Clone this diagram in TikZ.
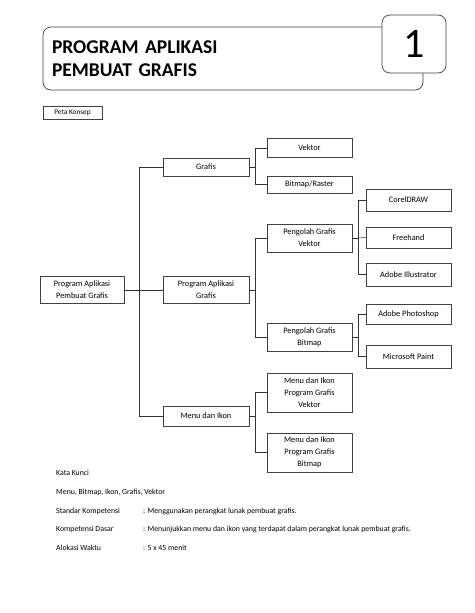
\documentclass[tikz,border=0pt]{standalone}
\usepackage{fontspec}
\setmainfont{Carlito}
\usetikzlibrary{shadows}
\newcommand\judulspasi{\spaceskip=3pt plus 1pt\relax}

\tikzset{
  kotak/.style={draw=black!75, line width=0.6pt, fill=white, align=center,
    font=\fontsize{8.3}{12}\selectfont, inner sep=1pt,
    drop shadow={shadow xshift=0.6pt, shadow yshift=-0.6pt, fill=black!35, opacity=1}},
  garis/.style={draw=black!80, line width=0.6pt},
  ket/.style={anchor=base west, font=\fontsize{7.8}{9}\selectfont, inner sep=0pt}
}

\begin{document}
\begin{tikzpicture}[x=1pt,y=-1pt]
        \useasboundingbox[fill=white] (0,0) rectangle (474,613);

        % Title box with chapter number
        \node[draw=black!75, line width=0.7pt, rounded corners=8pt, minimum width=380pt,
          minimum height=63pt, text width=362pt, inner xsep=9pt, align=left,
          font=\fontsize{19.5}{23}\selectfont\bfseries\judulspasi] (judul) at (233,58.5)
          {PROGRAM APLIKASI\\PEMBUAT GRAFIS};
        \node[draw=black!75, line width=0.7pt, rounded corners=8pt, fill=white,
          minimum width=64pt, minimum height=58pt, font=\fontsize{42}{42}\selectfont] (nomor) at (414,44) {1};

        % Peta Konsep label
        \node[draw=black!75, line width=0.6pt, minimum width=59pt, minimum height=13pt,
          inner sep=0pt, font=\fontsize{7.3}{8}\selectfont] (peta) at (72.5,112.5) {Peta Konsep};

        % Root and first level
        \node[kotak, minimum width=84pt, minimum height=27pt] (root) at (82,290) {Program Aplikasi\\Pembuat Grafis};
        \node[kotak, minimum width=86pt, minimum height=18pt] (grafis) at (206,167) {Grafis};
        \node[kotak, minimum width=86pt, minimum height=27pt] (pag) at (206,290) {Program Aplikasi\\Grafis};
        \node[kotak, minimum width=86pt, minimum height=20pt] (menu) at (206,416) {Menu dan Ikon};

        % Second level
        \node[kotak, minimum width=85pt, minimum height=19pt] (vektor) at (309.5,148) {Vektor};
        \node[kotak, minimum width=85pt, minimum height=17pt] (bitmap) at (309.5,184.5) {Bitmap/Raster};
        \node[kotak, minimum width=85pt, minimum height=28pt] (pgv) at (309.5,238) {Pengolah Grafis\\Vektor};
        \node[kotak, minimum width=85pt, minimum height=28pt] (pgb) at (309.5,337) {Pengolah Grafis\\Bitmap};
        \node[kotak, minimum width=85pt, minimum height=39pt] (mipv) at (309.5,392.5) {Menu dan Ikon\\Program Grafis\\Vektor};
        \node[kotak, minimum width=85pt, minimum height=39pt] (mipb) at (309.5,452.5) {Menu dan Ikon\\Program Grafis\\Bitmap};

        % Third level
        \node[kotak, minimum width=85pt, minimum height=22pt] (corel) at (408.5,200) {CorelDRAW};
        \node[kotak, minimum width=85pt, minimum height=21pt] (freehand) at (408.5,237.5) {Freehand};
        \node[kotak, minimum width=85pt, minimum height=23pt] (illus) at (408.5,274.5) {Adobe Illustrator};
        \node[kotak, minimum width=85pt, minimum height=20pt] (photoshop) at (408.5,314) {Adobe Photoshop};
        \node[kotak, minimum width=85pt, minimum height=23pt] (paint) at (408.5,356.5) {Microsoft Paint};

        % Connectors
        \draw[garis] (root.east) -- ++(15,0) coordinate (j1);
        \draw[garis] (grafis.west) -| (j1) |- (menu.west);
        \draw[garis] (pag.west) -- (j1);

        \draw[garis] (grafis.east) -- ++(6,0) coordinate (j2);
        \draw[garis] (vektor.west) -| (j2) |- (bitmap.west);
        \draw[garis] (pag.east) -- ++(6,0) coordinate (j3);
        \draw[garis] (pgv.west) -| (j3) |- (pgb.west);
        \draw[garis] (menu.east) -- ++(6,0) coordinate (j4);
        \draw[garis] (mipv.west) -| (j4) |- (mipb.west);

        \draw[garis] (pgv.east) -- ++(6,0) coordinate (j5);
        \draw[garis] (corel.west) -| (j5) |- (illus.west);
        \draw[garis] (freehand.west) -- (j5);
        \draw[garis] (pgb.east) -- ++(6,0) coordinate (j6);
        \draw[garis] (photoshop.west) -| (j6) |- (paint.west);

        % Keywords and competencies
        \node[ket] (kunci) at (56,475) {Kata Kunci};
        \node[ket] (kata) at (56,494) {Menu, Bitmap, Ikon, Grafis, Vektor};
        \node[ket] (sk) at (56,513) {Standar Kompetensi};
        \node[ket] (skisi) at (143,513) {: Menggunakan perangkat lunak pembuat grafis.};
        \node[ket] (kd) at (56,531.5) {Kompetensi Dasar};
        \node[ket] (kdisi) at (143,531.5) {: Menunjukkan menu dan ikon yang terdapat dalam perangkat lunak pembuat grafis.};
        \node[ket] (aw) at (56,550) {Alokasi Waktu};
        \node[ket] (awisi) at (143,550) {: 5 x 45 menit};
\end{tikzpicture}
\end{document}
